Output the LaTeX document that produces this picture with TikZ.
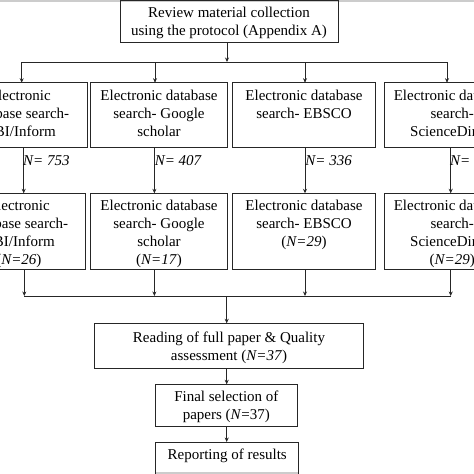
\documentclass[tikz,border=0pt]{standalone}
\usepackage{fontspec}
\setmainfont{Liberation Serif}
\usetikzlibrary{arrows.meta}
\newcommand\bxt[3]{\parbox[c][#2][t]{#1}{\centering\rule{0pt}{17.5pt}#3\par}}
\tikzset{
  boxnode/.style={draw=black!85, line width=0.8pt, inner sep=0pt, outer sep=0pt, anchor=north west,
    font=\fontsize{15}{18}\selectfont},
  conn/.style={draw=black!85, line width=0.8pt},
  arr/.style={conn, -{Stealth[length=4.5pt,width=4pt]}},
  nlabel/.style={anchor=west, inner sep=0pt, font=\fontsize{15}{18}\selectfont\itshape}
}
\begin{document}
\begin{tikzpicture}[x=1pt,y=-1pt]
\useasboundingbox (0,0) rectangle (474,474);
\clip (0,0) rectangle (474,474);
\fill[black!20] (0,0) rectangle (474,1.7);
% top box
\node[boxnode] (top) at (120,0) {\bxt{218pt}{42pt}{Review material collection\\using the protocol (Appendix A)}};
% row 1
\node[boxnode] (b1) at (-48,82.7) {\bxt{135.7pt}{65pt}{Electronic\\database search-\\ABI/Inform}};
\node[boxnode] (b2) at (90.7,82.7) {\bxt{136.6pt}{65pt}{Electronic database\\search- Google\\scholar}};
\node[boxnode] (b3) at (232.3,82.7) {\bxt{143.4pt}{65pt}{Electronic database\\search- EBSCO}};
\node[boxnode] (b4) at (384.3,82.7) {\bxt{136pt}{65pt}{Electronic database\\search-\\ScienceDirect}};
% row 2
\node[boxnode] (c1) at (-48,193.3) {\bxt{133.7pt}{75.7pt}{Electronic\\database search-\\ABI/Inform\\(\textit{N=26})}};
\node[boxnode] (c2) at (90.7,193.3) {\bxt{136.6pt}{75.7pt}{Electronic database\\search- Google\\scholar\\(\textit{N=17})}};
\node[boxnode] (c3) at (232.3,193.3) {\bxt{143.4pt}{75.7pt}{Electronic database\\search- EBSCO\\(\textit{N=29})}};
\node[boxnode] (c4) at (384.3,193.3) {\bxt{136pt}{75.7pt}{Electronic database\\search-\\ScienceDirect\\(\textit{N=29})}};
% lower boxes
\node[boxnode] (read) at (94.3,323.3) {\parbox[c][45pt][t]{269.4pt}{\centering\rule{0pt}{18.7pt}Reading of full paper \& Quality\\assessment (\textit{N=37})\par}};
\node[boxnode] (final) at (155,384.3) {\bxt{142.7pt}{41.7pt}{Final selection of\\papers (\textit{N}=37)}};
\node[boxnode] (report) at (155.7,442) {\parbox[c][40pt][t]{143pt}{\centering\rule{0pt}{17pt}Reporting of results\par}};
\fill[black!20] (156.1,471.6) rectangle (298.3,474);
% split line
\coordinate (s0) at (227,62);
\coordinate (s1) at (21.7,62);
\coordinate (s2) at (155,62);
\coordinate (s3) at (305,62);
\coordinate (s4) at (447,62);
\draw[arr] (top.south -| s0) -- (s0);
\draw[conn] (s1) -- (s4);
\draw[arr] (s1) -- (s1 |- b1.north);
\draw[arr] (s2) -- (s2 |- b2.north);
\draw[arr] (s3) -- (s3 |- b3.north);
\draw[arr] (s4) -- (s4 |- b4.north);
% row1 -> row2
\coordinate (v1) at (23.7,0);
\coordinate (v2) at (154.4,0);
\coordinate (v3) at (305,0);
\coordinate (v4) at (450.7,0);
\draw[arr] (v1 |- b1.south) -- (v1 |- c1.north);
\draw[arr] (v2 |- b2.south) -- (v2 |- c2.north);
\draw[arr] (v3 |- b3.south) -- (v3 |- c3.north);
\draw[arr] (v4 |- b4.south) -- (v4 |- c4.north);
\node[nlabel] (n1) at (23,161) {N= 753};
\node[nlabel] (n2) at (154.6,161) {N= 407};
\node[nlabel] (n3) at (305.2,161) {N= 336};
\node[nlabel] (n4) at (450,161) {N= 192};
% merge line
\coordinate (m1) at (24.3,296);
\coordinate (m2) at (154.4,296);
\coordinate (m3) at (305,296);
\coordinate (m4) at (450.7,296);
\coordinate (m0) at (226.7,296);
\draw[conn] (m1) -- (m4);
\draw[arr] (m1 |- c1.south) -- (m1);
\draw[arr] (m2 |- c2.south) -- (m2);
\draw[arr] (m3 |- c3.south) -- (m3);
\draw[arr] (m4 |- c4.south) -- (m4);
\draw[arr] (m0) -- (m0 |- read.north);
\draw[arr] (m0 |- read.south) -- (m0 |- final.north);
\draw[arr] (m0 |- final.south) -- (m0 |- report.north);
\end{tikzpicture}
\end{document}
